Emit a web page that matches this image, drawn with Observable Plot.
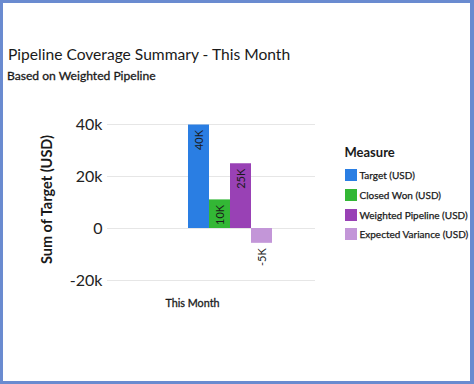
<!DOCTYPE html>
<html>
<head>
<meta charset="utf-8">
<script src="https://cdn.jsdelivr.net/npm/d3@7"></script>
<script src="https://cdn.jsdelivr.net/npm/@observablehq/plot@0.6"></script>
<style>
  html, body { margin: 0; padding: 0; background: #fff; }
  #page { position: relative; width: 474px; height: 384px; overflow: hidden; font-family: Lato, "Open Sans", sans-serif; color: #1a1a1a; background: #fff; }
  #frame { position: absolute; left: 0; top: 0; width: 474px; height: 384px; box-sizing: border-box; border: 3px solid #6a8bd0; border-right-width: 4px; pointer-events: none; }
  .abs { position: absolute; white-space: nowrap; }
  #title { left: 8px; top: 47px; font-size: 15.6px; line-height: 15.6px; font-weight: 400; }
  #subtitle { left: 7px; top: 70.3px; font-size: 12.1px; line-height: 12.1px; font-weight: 400; -webkit-text-stroke: 0.3px #1a1a1a; }
  #chart { position: absolute; left: 0; top: 0; }
  #legend { left: 344.5px; top: 145.5px; }
  #legend .head { font-size: 13px; line-height: 13px; font-weight: bold; margin-bottom: 10.8px; }
  #legend .row { display: flex; align-items: center; height: 12px; margin-bottom: 7.7px; font-size: 10px; font-weight: 400; -webkit-text-stroke: 0.25px #1a1a1a; }
  #legend .sw { width: 12px; height: 12px; margin-right: 3px; }
</style>
</head>
<body>
<div id="page">
  <div id="title" class="abs">Pipeline Coverage Summary - This Month</div>
  <div id="subtitle" class="abs">Based on Weighted Pipeline</div>
  <div id="chart"></div>
  <div id="legend" class="abs"></div>
  <div id="frame"></div>
</div>
<script>
const measures = ["Target (USD)", "Closed Won (USD)", "Weighted Pipeline (USD)", "Expected Variance (USD)"];
const values = [39800, 11000, 24900, -5700];
const valueLabels = ["40K", "10K", "25K", "-5K"];
const colors = ["#2a7ee3", "#33b735", "#9941b5", "#c396d8"];
const yTicks = [-20000, 0, 20000, 40000];
const yTickLabels = ["-20k", "0", "20k", "40k"];
const period = "This Month";
const yLabel = "Sum of Target (USD)";
const legendTitle = "Measure";

const data = measures.map((m, i) => ({measure: m, value: values[i], label: valueLabels[i]}));

const chart = Plot.plot({
  width: 330,
  height: 320,
  marginLeft: 107,
  marginRight: 15,
  marginTop: 124,
  marginBottom: 40,
  style: {fontFamily: "Lato, sans-serif", background: "transparent", overflow: "visible"},
  x: {type: "band", domain: measures, range: [187.3, 272.7], padding: 0, axis: null},
  y: {domain: [-20000, 40000], axis: null},
  color: {domain: measures, range: colors},
  marks: [
    Plot.gridY(yTicks, {stroke: "#e6e6e6", strokeOpacity: 1, strokeWidth: 1}),
    Plot.axisY(yTicks, {tickSize: 0, tickPadding: 5, fontSize: 16, fill: "#222", label: null,
      tickFormat: d => yTickLabels[yTicks.indexOf(d)]}),
    Plot.barY(data, {x: "measure", y: "value", fill: "measure", insetLeft: 0, insetRight: 0}),
    Plot.text(data, {x: "measure", y: "value", text: "label", rotate: -90, textAnchor: "end",
      dy: 5, fontSize: 11, fill: "#1a1a1a"}),
    Plot.text([period], {frameAnchor: "bottom", textAnchor: "middle", lineAnchor: "middle", dy: 23, dx: -19,
      fontSize: 10.8, fontWeight: 400, fill: "#1a1a1a", stroke: "#1a1a1a", strokeWidth: 0.3}),
    Plot.text([yLabel], {frameAnchor: "left", textAnchor: "middle", lineAnchor: "middle", dx: -60, dy: -3,
      rotate: -90, fontSize: 14.5, fontWeight: "bold", fill: "#1a1a1a"})
  ]
});
document.getElementById("chart").appendChild(chart);

const legend = document.getElementById("legend");
const head = document.createElement("div");
head.className = "head";
head.textContent = legendTitle;
legend.appendChild(head);
measures.forEach((m, i) => {
  const row = document.createElement("div");
  row.className = "row";
  const sw = document.createElement("div");
  sw.className = "sw";
  sw.style.background = colors[i];
  const t = document.createElement("span");
  t.textContent = m;
  row.appendChild(sw);
  row.appendChild(t);
  legend.appendChild(row);
});
</script>
</body>
</html>
